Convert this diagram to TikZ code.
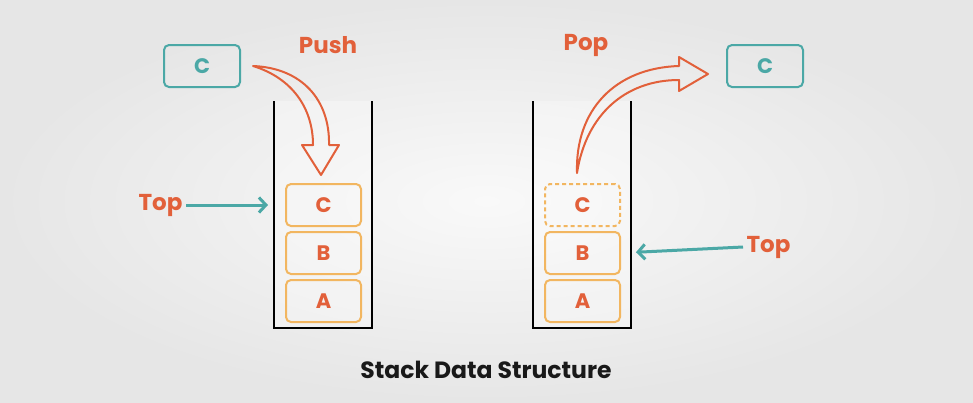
\documentclass[tikz,border=0pt]{standalone}
\usepackage{fontspec}
\setmainfont{Poppins}
\usetikzlibrary{arrows.meta}

\definecolor{stackorange}{HTML}{E2603A}
\definecolor{boxyellow}{HTML}{F2B660}
\definecolor{stackteal}{HTML}{4BA8A6}
\definecolor{bgedge}{HTML}{E6E6E6}
\definecolor{bgmid}{HTML}{F9F9F9}

\begin{document}
\begin{tikzpicture}[
    x=1pt, y=-1pt,
    item/.style={draw=boxyellow, line width=2pt, rounded corners=5pt, minimum width=75pt, minimum height=42pt, inner sep=0pt, text=stackorange, font=\fontsize{21}{21}\selectfont\bfseries},
    ghost/.style={item, dash pattern=on 4pt off 3pt},
    card/.style={item, draw=stackteal, text=stackteal, minimum width=76pt},
    lbl/.style={text=stackorange, font=\fontsize{23}{23}\selectfont\bfseries},
    wall/.style={line width=2.5pt, black, line join=miter},
    pointer/.style={stackteal, line width=3pt, -{Straight Barb[length=7pt, width=15pt]}},
    fatarrow/.style={draw=stackorange, line width=2pt, line join=round}
]

% Background
\shade[inner color=bgmid, outer color=bgedge] (0,0) rectangle (973,402);
\useasboundingbox (0,0) rectangle (973,402);

% Stack corners
\coordinate (lTop1) at (274,101);
\coordinate (lBot1) at (274,328);
\coordinate (lBot2) at (372,328);
\coordinate (lTop2) at (372,101);
\coordinate (rTop1) at (533,101);
\coordinate (rBot1) at (533,328);
\coordinate (rBot2) at (631,328);
\coordinate (rTop2) at (631,101);

% Draw stacks
\fill[white, opacity=0.3] (lTop1) rectangle (lBot2);
\fill[white, opacity=0.3] (rTop1) rectangle (rBot2);
\draw[wall] (lTop1) -- (lBot1) -- (lBot2) -- (lTop2);
\draw[wall] (rTop1) -- (rBot1) -- (rBot2) -- (rTop2);

% Push side
\node[card] (inC) at (202,66) {C};
\node[lbl] (pushLbl) at (328,45) {Push};
\node[item] (lC) at (323.5,205) {C};
\node[item] (lB) at (323.5,253) {B};
\node[item] (lA) at (323.5,301) {A};
\node[lbl, anchor=east] (topL) at (186,205) {Top};
\draw[pointer, shorten >=17pt] (topL.east) -- (lC.west);

% Push arrow
\draw[fatarrow] (253,66) .. controls (302,68) and (330,100) .. (329,145) -- (339,145) -- (321,175)
    -- (302,145) -- (313,145) .. controls (313,108) and (292,78) .. (253,66) -- cycle;

% Pop side
\node[card] (outC) at (765,66) {C};
\node[lbl] (popLbl) at (586,45) {Pop};
\node[ghost] (rC) at (582.5,205) {C};
\node[item] (rB) at (582.5,253) {B};
\node[item] (rA) at (582.5,301) {A};
\node[lbl, anchor=west] (topR) at (743,247) {Top};
\draw[pointer, shorten >=15pt] (topR.west) -- (rB.east);

% Pop arrow
\draw[fatarrow] (577,173) .. controls (575,110) and (615,68) .. (679,66) -- (679,57) -- (708,74)
    -- (679,91) -- (679,80) .. controls (625,80) and (586,115) .. (577,173) -- cycle;

% Title
\node[font=\fontsize{23.5}{23.5}\selectfont\bfseries, text=black!90] (title) at (486,370) {Stack Data Structure};

\end{tikzpicture}
\end{document}
